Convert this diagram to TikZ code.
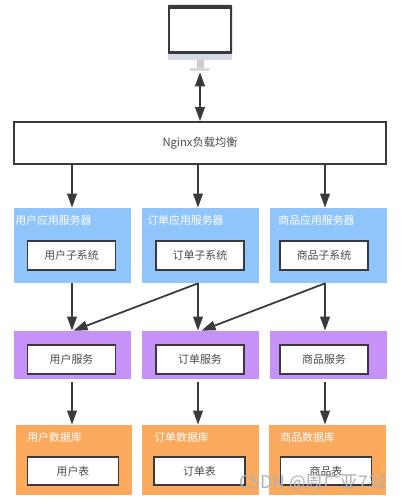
\documentclass[tikz,border=0pt]{standalone}
\usepackage{fontspec}
\setmainfont{Noto Sans CJK SC}
\usetikzlibrary{arrows.meta,calc}
\definecolor{bluebox}{HTML}{90C5FB}
\definecolor{purplebox}{HTML}{C792F8}
\definecolor{orangebox}{HTML}{FBA95C}
\definecolor{edge}{HTML}{3A3A3E}
\definecolor{txt}{HTML}{4A4A4A}
\definecolor{chin}{HTML}{D6D9E0}
\tikzset{
  x=0.02cm,y=-0.02cm,
  area/.style n args={3}{draw=none,fill=#1,minimum width=#2*0.02cm,minimum height=#3*0.02cm,inner sep=0pt},
  inbox/.style 2 args={draw=edge,line width=1pt,fill=white,text=txt,font=\fontsize{6.2}{7}\selectfont,minimum width=#1*0.02cm,minimum height=#2*0.02cm,inner sep=0pt},
  head/.style={anchor=west,text=white,font=\fontsize{6.2}{7}\selectfont,inner sep=0pt},
  conn/.style={draw=edge,line width=1pt,-{Stealth[length=8pt,width=5.5pt,inset=0pt]}},
  biconn/.style={draw=edge,line width=1pt,{Stealth[length=8pt,width=5.5pt,inset=0pt]}-{Stealth[length=8pt,width=5.5pt,inset=0pt]}},
}
\begin{document}
\begin{tikzpicture}
\useasboundingbox (0,0) rectangle (402,502);
\fill[white] (0,0) rectangle (402,502);
% monitor
\fill[edge,rounded corners=0.4pt] (168,5) rectangle (232,54);
\fill[white] (170,9) rectangle (230,51);
\fill[chin] (168,54) rectangle (232,60);
\fill[gray!40] (197,60) rectangle (204,68);
\fill[gray!30,rounded corners=1pt] (189,68) rectangle (210,71);
\node[inner sep=0pt,minimum size=1pt] (screen) at (200,71) {};
% nginx
\node[inbox={372}{42},font=\fontsize{6.4}{8}\selectfont] (nginx) at (200,143) {Nginx负载均衡};
% blue
\node[area={bluebox}{117}{75}] (b1) at (72.5,245.5) {};
\node[area={bluebox}{117}{75}] (b2) at (200.5,245.5) {};
\node[area={bluebox}{117}{75}] (b3) at (328.5,245.5) {};
\node[head] (hb1) at (15,220) {用户应用服务器};
\node[head] (hb2) at (147,220) {订单应用服务器};
\node[head] (hb3) at (278,220) {商品应用服务器};
\node[inbox={88}{29}] (s1) at (71.5,255.5) {用户子系统};
\node[inbox={88}{29}] (s2) at (200,255.5) {订单子系统};
\node[inbox={88}{29}] (s3) at (324,255.5) {商品子系统};
% purple
\node[area={purplebox}{117}{48}] (p1) at (72.5,355) {};
\node[area={purplebox}{117}{48}] (p2) at (200.5,355) {};
\node[area={purplebox}{117}{48}] (p3) at (328.5,355) {};
\node[inbox={88}{29}] (v1) at (71.5,359.5) {用户服务};
\node[inbox={88}{29}] (v2) at (200,359.5) {订单服务};
\node[inbox={88}{29}] (v3) at (324,359.5) {商品服务};
% orange
\node[area={orangebox}{116}{70}] (o1) at (74,460) {};
\node[area={orangebox}{117}{70}] (o2) at (200.5,460) {};
\node[area={orangebox}{117}{70}] (o3) at (327.5,460) {};
\node[head] (ho1) at (27,437) {用户数据库};
\node[head] (ho2) at (154,437) {订单数据库};
\node[head] (ho3) at (280,437) {商品数据库};
\node[inbox={91}{28}] (t1) at (73,471) {用户表};
\node[inbox={91}{28}] (t2) at (199.5,471) {订单表};
\node[inbox={91}{28}] (t3) at (326,471) {商品表};
% connectors
\draw[biconn] (screen.south) -- (nginx.north);
\foreach \a/\b/\dx in {b1/p1/-0.5,b2/p2/-2.5,b3/p3/-3.5}{
  \draw[conn] ([xshift=\dx*0.02cm]\a.south) -- ([xshift=\dx*0.02cm]\b.north);
}
\draw[conn] ($(nginx.south -| b1.north)+(-0.5,0)$) -- ($(b1.north)+(-0.5,0)$);
\draw[conn] ($(nginx.south -| b2.north)+(-2.5,0)$) -- ($(b2.north)+(-2.5,0)$);
\draw[conn] ($(nginx.south -| b3.north)+(-3.5,0)$) -- ($(b3.north)+(-3.5,0)$);
\draw[conn] ($(b2.south)+(-2.5,0)$) -- ($(p1.north)+(1,0)$);
\draw[conn] ($(b3.south)+(-3.5,0)$) -- ($(p2.north)+(1,0)$);
\draw[conn] ($(p1.south)+(-0.5,3)$) -- ($(o1.north)+(-2,0)$);
\draw[conn] ($(p2.south)+(-2.5,3)$) -- ($(o2.north)+(-2.5,0)$);
\draw[conn] ($(p3.south)+(-3.5,3)$) -- ($(o3.north)+(-2.5,0)$);
% watermark
\node[anchor=east,inner sep=0pt,text=gray!60,font=\fontsize{10}{11}\selectfont] (wm) at (388,483) {CSDN @周广亚732};
\end{tikzpicture}
\end{document}
